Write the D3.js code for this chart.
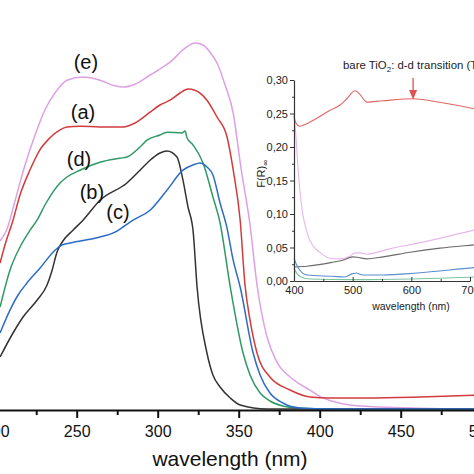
<!DOCTYPE html>
<html><head><meta charset="utf-8">
<script src="https://cdn.jsdelivr.net/npm/d3@7"></script>
<style>
html,body{margin:0;padding:0;background:#fff;}
svg{display:block;font-family:"Liberation Sans",Arial,sans-serif;}
</style></head>
<body>
<svg id="c" width="474" height="474"></svg>
<script>
// ---------- main chart data (wavelength nm, absorbance a.u.) ----------
const xTicksMain = [200,250,300,350,400,450,500];
const xMinorMain = [225,275,325,375,425,475];
const seriesNames = ["(e)","(a)","(d)","(b)","(c)"];
const seriesColors = ["#dea0e4","#d23b3c","#2f9a66","#333333","#2c6cc6"];
const curveE = [[202.7,0.42],[207,0.45],[211.9,0.52],[218.1,0.61],[224.3,0.685],[230.4,0.748],[236.6,0.79],[244,0.822],[253.9,0.83],[264.4,0.822],[273.6,0.808],[278.6,0.805],[286,0.812],[295.3,0.835],[299.6,0.845],[301.4,0.85],[307.6,0.867],[316.9,0.902],[323,0.915],[328,0.91],[332.3,0.892],[336.6,0.865],[341.6,0.81],[346.6,0.74],[351.5,0.6],[357,0.46],[361.3,0.31],[367.5,0.18],[373.5,0.118],[381.7,0.08],[387.8,0.062],[394,0.047],[400.2,0.031],[409.5,0.0175],[418.7,0.01],[437.2,0.005],[461.9,0.002],[498.9,0.0]];
const curveA = [[202.7,0.365],[205.7,0.41],[210.7,0.472],[215,0.535],[221.2,0.598],[227.3,0.648],[233.5,0.678],[239.7,0.698],[244,0.705],[252,0.707],[264.4,0.705],[278.6,0.705],[286,0.715],[295.3,0.742],[301.4,0.76],[307.6,0.772],[313.8,0.79],[318.7,0.8],[323,0.797],[330.4,0.772],[336.6,0.73],[342.8,0.68],[346.6,0.598],[350.9,0.472],[353.9,0.31],[357,0.222],[361.3,0.14],[369.3,0.08],[381.7,0.0475],[394,0.03],[406.4,0.0275],[429.2,0.0275],[461.9,0.03],[498.9,0.035]];
const curveD = [[202.7,0.255],[208.8,0.347],[215,0.405],[221.2,0.447],[225.5,0.472],[230.4,0.51],[239.7,0.565],[244,0.58],[252,0.597],[264.4,0.617],[276.7,0.627],[281,0.63],[289.1,0.655],[293.4,0.672],[301.4,0.685],[305.7,0.692],[315,0.69],[316.9,0.695],[318.1,0.678],[321.8,0.66],[328,0.615],[334.1,0.53],[338.5,0.465],[344.8,0.305],[352.7,0.14],[357,0.085],[363.2,0.04],[369.3,0.02],[377.3,0.0075],[387.8,0.002],[406.4,0.0],[498.9,0.0]];
const curveB = [[202.7,0.13],[210.7,0.19],[216.9,0.23],[225.5,0.272],[231.7,0.31],[234.7,0.345],[237.8,0.392],[241.5,0.42],[247.7,0.447],[253.9,0.472],[264.4,0.522],[281,0.565],[289.1,0.597],[295.3,0.622],[301.4,0.64],[305.7,0.645],[311.9,0.63],[315.6,0.572],[318.7,0.505],[321.8,0.447],[324.3,0.305],[330.4,0.14],[334.1,0.085],[338.5,0.055],[344.8,0.0275],[350.9,0.01],[367.5,0.0],[498.9,0.0]];
const curveC = [[202.7,0.19],[208.8,0.247],[213.8,0.285],[219.3,0.315],[227.3,0.352],[236.6,0.397],[240.9,0.41],[245.9,0.415],[264.4,0.43],[273.6,0.442],[278.6,0.455],[284.8,0.472],[295.3,0.497],[305.7,0.547],[315.6,0.597],[321.8,0.61],[326.1,0.615],[330.4,0.605],[334.1,0.585],[338.5,0.515],[342.8,0.452],[346.6,0.372],[350.9,0.305],[358.9,0.14],[363.2,0.085],[369.3,0.04],[377.3,0.015],[387.8,0.0025],[406.4,0.0],[498.9,0.0]];
const mainCurves = [curveE, curveA, curveD, curveB, curveC];
const labelPos = [[255.7,0.85],[253.9,0.725],[251.4,0.6075],[259.4,0.525],[275.5,0.475]]; // [nm, a.u.] anchors for labels

// ---------- inset data (wavelength nm, F(R)) ----------
const xTicksInset = [400,500,600,700,800];
const xMinorInset = [450,550,650,750];
const yTicksInset = [0,0.05,0.10,0.15,0.20,0.25,0.30];
const yMinorInset = [0.025,0.075,0.125,0.175,0.225,0.275];
const insetColors = ["#e06464","#e8b6ec","#6a6a6a","#5a8ed0","#7cc4a0"];
const insetRed = [[400,0.247],[403,0.236],[410,0.231],[420,0.234],[439,0.243],[460,0.254],[479,0.263],[490,0.272],[504,0.284],[512,0.279],[524,0.267],[551,0.269],[603,0.272],[653,0.266],[707,0.257],[760,0.245]];
const insetPink = [[400,0.245],[403,0.22],[406,0.18],[410,0.135],[414,0.105],[419,0.083],[425,0.065],[432,0.053],[444,0.043],[461,0.034],[478,0.033],[495,0.037],[504,0.042],[512,0.042],[524,0.04],[563,0.048],[620,0.058],[707,0.076],[780,0.09]];
const insetBlack = [[400,0.021],[422,0.022],[466,0.028],[483,0.031],[500,0.036],[510,0.035],[524,0.033],[552,0.036],[598,0.043],[649,0.049],[707,0.054],[780,0.06]];
const insetBlue = [[400,0.034],[404,0.025],[410,0.016],[422,0.009],[466,0.007],[486,0.006],[500,0.011],[506,0.012],[517,0.009],[552,0.009],[610,0.012],[707,0.02],[780,0.025]];
const insetGreen = [[400,0.019],[405,0.011],[412,0.006],[427,0.003],[500,0.002],[600,0.003],[707,0.006],[780,0.008]];
const insetCurves = [insetRed, insetPink, insetBlack, insetBlue, insetGreen];
const arrowAt = 603;

const svg = d3.select("#c");
const font = '"Liberation Sans",Arial,sans-serif';

// main scales
const x = d3.scaleLinear().domain([200,500]).range([-4.3,481.7]);
const y = d3.scaleLinear().domain([0,1]).range([409,9]);
const line = d3.line().x(d=>x(d[0])).y(d=>y(d[1])).curve(d3.curveMonotoneX);

const gMain = svg.append("g");
mainCurves.forEach((c,i)=>{
  gMain.append("path").datum(c).attr("d",line).attr("fill","none")
    .attr("stroke",seriesColors[i]).attr("stroke-width",1.5);
});
seriesNames.forEach((n,i)=>{
  svg.append("text").attr("x",x(labelPos[i][0])).attr("y",y(labelPos[i][1]))
    .attr("text-anchor","middle").attr("font-size",20).attr("fill","#111").text(n);
});

// main x axis
const axMain = svg.append("g").attr("transform","translate(0,410)")
  .call(d3.axisBottom(x).tickValues(xTicksMain).tickSize(8).tickSizeOuter(0).tickPadding(8).tickFormat(d3.format("d")));
axMain.select(".domain").attr("stroke","#111").attr("stroke-width",2);
axMain.selectAll(".tick line").attr("stroke","#111").attr("stroke-width",2);
axMain.selectAll("text").attr("font-size",16).attr("font-family",font).attr("fill","#111");
const axMainMinor = svg.append("g").attr("transform","translate(0,410)")
  .call(d3.axisBottom(x).tickValues(xMinorMain).tickSize(5).tickSizeOuter(0).tickFormat(""));
axMainMinor.select(".domain").remove();
axMainMinor.selectAll(".tick line").attr("stroke","#111").attr("stroke-width",2);
svg.append("text").attr("x",230).attr("y",466).attr("text-anchor","middle")
  .attr("font-size",21).attr("fill","#111").text("wavelength (nm)");

// inset scales
const xi = d3.scaleLinear().domain([400,700]).range([294,470]);
const yi = d3.scaleLinear().domain([0,0.30]).range([281,80]);
const lineI = d3.line().x(d=>xi(d[0])).y(d=>yi(d[1])).curve(d3.curveMonotoneX);
insetCurves.forEach((c,i)=>{
  svg.append("path").datum(c).attr("d",lineI).attr("fill","none")
    .attr("stroke",insetColors[i]).attr("stroke-width",1.1);
});

const fmt = d=>d.toFixed(2).replace(".",",");
const axIL = svg.append("g").attr("transform","translate(294,0)")
  .call(d3.axisLeft(yi).tickValues(yTicksInset).tickSize(4).tickSizeOuter(0).tickPadding(2).tickFormat(fmt));
const axILm = svg.append("g").attr("transform","translate(294,0)")
  .call(d3.axisLeft(yi).tickValues(yMinorInset).tickSize(2).tickSizeOuter(0).tickFormat(""));
axILm.select(".domain").remove();
const axIB = svg.append("g").attr("transform","translate(0,281)")
  .call(d3.axisBottom(xi).tickValues(xTicksInset).tickSizeInner(-4).tickSizeOuter(0).tickPadding(5).tickFormat(d3.format("d")));
const axIBm = svg.append("g").attr("transform","translate(0,281)")
  .call(d3.axisBottom(xi).tickValues(xMinorInset).tickSizeInner(-2).tickSizeOuter(0).tickFormat(""));
axIBm.select(".domain").remove();
[axIL,axILm,axIB,axIBm].forEach(a=>{
  a.selectAll(".domain").attr("stroke","#333").attr("stroke-width",1.2);
  a.selectAll(".tick line").attr("stroke","#333").attr("stroke-width",1);
  a.selectAll("text").attr("font-size",11).attr("font-family",font).attr("fill","#222");
});
svg.append("text").attr("x",411).attr("y",310).attr("text-anchor","middle")
  .attr("font-size",10.5).attr("fill","#222").text("wavelength (nm)");
const yl = svg.append("text").attr("transform","translate(265,174) rotate(-90)")
  .attr("text-anchor","middle").attr("font-size",11).attr("fill","#222");
yl.append("tspan").text("F(R)");
yl.append("tspan").attr("font-size",8).attr("dy",3).text("∞");

const tt = svg.append("text").attr("x",343).attr("y",69).attr("font-size",11.4).attr("fill","#222");
tt.append("tspan").text("bare TiO");
tt.append("tspan").attr("font-size",8).attr("dy",3).text("2");
tt.append("tspan").attr("dy",-3).text(": d-d transition (Ti");
tt.append("tspan").attr("font-size",8).attr("dy",-4).text("3+");
tt.append("tspan").attr("dy",4).text(")");

// arrow
const ax0 = xi(arrowAt);
svg.append("line").attr("x1",ax0).attr("x2",ax0).attr("y1",78).attr("y2",92)
  .attr("stroke","#e05050").attr("stroke-width",1.3);
svg.append("path").attr("d",`M${ax0-4},90 L${ax0+4},90 L${ax0},${yi(0.271)} Z`).attr("fill","#e05050");
</script>
</body></html>
